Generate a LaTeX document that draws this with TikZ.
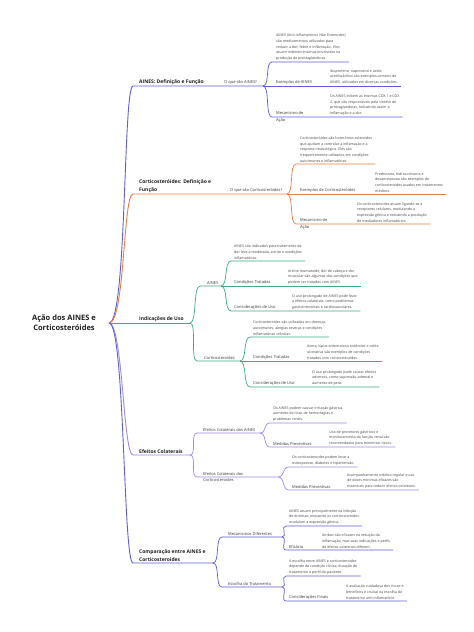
\documentclass[tikz,border=0pt]{standalone}
\usepackage{fontspec}
\setmainfont{Open Sans}
\usetikzlibrary{calc}
\definecolor{mmblue}{RGB}{92,94,218}
\definecolor{mmorange}{RGB}{236,122,66}
\definecolor{mmgreen}{RGB}{62,172,128}
\definecolor{mmpurple}{RGB}{162,136,232}

\begin{document}
\begin{tikzpicture}[
    x=1pt, y=-1pt,
    root/.style={align=center, inner sep=0pt, font=\bfseries\fontsize{7.5}{10}\selectfont, text=black!88},
    topic/.style={anchor=south west, inner xsep=0pt, inner ysep=1.6pt, align=left,
                  font=\bfseries\fontsize{5}{7.2}\selectfont, text=black!88},
    sub/.style={anchor=south west, inner xsep=0pt, inner ysep=1.4pt, align=left,
                font=\fontsize{4}{6.4}\selectfont, text=black!78},
    leaf/.style={anchor=south west, inner xsep=0pt, inner ysep=1.2pt, align=left,
                 font=\fontsize{3.6}{5.8}\selectfont, text=black!72},
    trunk/.style={draw=#1, line width=0.9pt},
    link/.style={draw=#1, line width=0.7pt},
]
\useasboundingbox (0,0) rectangle (474,632);
\fill[white] (0,0) rectangle (474,632);

% --- ROOT ---
\node[root] (root) at (64,323) {Ação dos AINES e\\Corticosteróides};
\coordinate (hub) at (109,323);

% --- BRANCH 1: AINES definicao ---
\node[topic] (t1) at (139,86) {AINES: Definição e Função};
\node[sub] (s1) at (224,86) {O que são AINES?};
\coordinate (f1) at (263,86);
\node[leaf] (l1a) at (276,62) {AINES (Anti-inflamatórios Não Esteroides)\\são medicamentos utilizados para\\reduzir a dor, febre e inflamação. Eles\\atuam inibindo enzimas envolvidas na\\produção de prostaglandinas.};
\node[sub] (s1b) at (276,86) {Exemplos de AINES};
\node[leaf] (l1b) at (330,86) {Ibuprofeno, naproxeno e ácido\\acetilsalicílico são exemplos comuns de\\AINES, utilizados em diversas condições.};
\node[sub, anchor=west] (s1c) at (276,117) {Mecanismo de\\Ação};
\node[leaf] (l1c) at (330,117) {Os AINES inibem as enzimas COX 1 e COX\\2, que são responsáveis pela síntese de\\prostaglandinas, reduzindo assim a\\inflamação e a dor.};

% --- BRANCH 2: Corticosteroides definicao ---
\node[topic] (t2) at (139,194) {Corticosteróides: Definição e\\Função};
\node[sub] (s2) at (230,194) {O que são Corticosteróides?};
\coordinate (f2) at (287,194);
\node[leaf] (l2a) at (300,164) {Corticosteróides são hormônios esteroides\\que ajudam a controlar a inflamação e a\\resposta imunológica. Eles são\\frequentemente utilizados em condições\\autoimunes e inflamatórias.};
\node[sub] (s2b) at (300,194) {Exemplos de Corticosteróides};
\node[leaf] (l2b) at (375,194) {Prednisona, hidrocortisona e\\dexametasona são exemplos de\\corticosteroides usados em tratamentos\\médicos.};
\node[sub, anchor=west] (s2c) at (300,224) {Mecanismo de\\Ação};
\node[leaf] (l2c) at (357,224) {Os corticosteroides atuam ligando-se a\\receptores celulares, modulando a\\expressão gênica e reduzindo a produção\\de mediadores inflamatórios.};

% --- BRANCH 3: Indicacoes ---
\node[topic] (t3) at (139,323) {Indicações de Uso};
\coordinate (f3) at (190,323);
\node[sub] (s3a) at (207,286) {AINES};
\coordinate (f3a) at (221,286);
\node[leaf] (l3a1) at (234,261) {AINES são indicados para tratamento de\\dor leve a moderada, artrite e condições\\inflamatórias.};
\node[sub] (s3a2) at (234,286) {Condições Tratadas};
\node[leaf] (l3a2) at (288,286) {Artrite reumatoide, dor de cabeça e dor\\muscular são algumas das condições que\\podem ser tratadas com AINES.};
\node[sub] (s3a3) at (234,311) {Considerações de Uso};
\node[leaf] (l3a3) at (292,311) {O uso prolongado de AINES pode levar\\a efeitos colaterais, como problemas\\gastrointestinais e cardiovasculares.};
\node[sub] (s3b) at (204,361) {Corticosteroides};
\coordinate (f3b) at (240,361);
\node[leaf] (l3b1) at (253,337) {Corticosteroides são utilizados em doenças\\autoimunes, alergias severas e condições\\inflamatórias crônicas.};
\node[sub] (s3b2) at (253,361) {Condições Tratadas};
\node[leaf] (l3b2) at (307,361) {Asma, lúpus eritematoso sistêmico e colite\\ulcerativa são exemplos de condições\\tratadas com corticosteroides.};
\node[sub] (s3b3) at (253,387) {Considerações de Uso};
\node[leaf] (l3b3) at (312,387) {O uso prolongado pode causar efeitos\\adversos, como supressão adrenal e\\aumento de peso.};

% --- BRANCH 4: Efeitos colaterais ---
\node[topic] (t4) at (139,455) {Efeitos Colaterais};
\coordinate (f4) at (190,455);
\node[sub] (s4a) at (203,433) {Efeitos Colaterais dos AINES};
\coordinate (f4a) at (260,433);
\node[leaf] (l4a1) at (273,423) {Os AINES podem causar irritação gástrica,\\aumento do risco de hemorragias e\\problemas renais.};
\node[sub] (s4a2) at (273,447) {Medidas Preventivas};
\node[leaf] (l4a2) at (329,447) {Uso de protetores gástricos e\\monitoramento da função renal são\\recomendados para minimizar riscos.};
\node[sub, anchor=west] (s4b) at (203,477) {Efeitos Colaterais dos\\Corticosteroides};
\coordinate (f4b) at (278,477);
\node[leaf] (l4b1) at (292,467) {Os corticosteroides podem levar a\\osteoporose, diabetes e hipertensão.};
\node[sub] (s4b2) at (292,490) {Medidas Preventivas};
\node[leaf] (l4b2) at (347,490) {Acompanhamento médico regular e uso\\de doses mínimas eficazes são\\essenciais para reduzir efeitos colaterais.};

% --- BRANCH 5: Comparacao ---
\node[topic] (t5) at (139,563) {Comparação entre AINES e\\Corticosteroides};
\coordinate (f5) at (213,563);
\node[sub] (s5a) at (228,537) {Mecanismos Diferentes};
\coordinate (f5a) at (282,537);
\node[leaf] (l5a1) at (289,526) {AINES atuam principalmente na inibição\\de enzimas, enquanto os corticosteroides\\modulam a expressão gênica.};
\node[sub] (s5a2) at (289,550) {Eficácia};
\node[leaf] (l5a2) at (322,550) {Ambos são eficazes na redução da\\inflamação, mas suas indicações e perfis\\de efeitos colaterais diferem.};
\node[sub] (s5b) at (228,587) {Escolha do Tratamento};
\coordinate (f5b) at (282,587);
\node[leaf] (l5b1) at (289,576) {A escolha entre AINES e corticosteroides\\depende da condição clínica, duração do\\tratamento e perfil do paciente.};
\node[sub] (s5b2) at (289,601) {Considerações Finais};
\node[leaf] (l5b2) at (346,601) {A avaliação cuidadosa dos riscos e\\benefícios é crucial na escolha do\\tratamento anti-inflamatório.};

% --- Trunks: root -> topics ---
\draw[trunk=mmblue]   (hub) .. controls +(18,0) and +(-10,0) .. ([xshift=-6]t1.south west) -- (f1);
\draw[trunk=mmorange] (hub) .. controls +(16,0) and +(-10,0) .. ([xshift=-6]t2.south west) -- (f2);
\draw[trunk=mmgreen]  (hub) -- (f3);
\draw[trunk=mmpurple] (hub) .. controls +(14,0) and +(-10,0) .. ([xshift=-6]t4.south west) -- (f4);
\draw[trunk=mmblue]   (hub) .. controls +(16,0) and +(-10,0) .. ([xshift=-6]t5.south west) -- (f5);

% --- Branch 1 links ---
\draw[link=mmblue] (f1) .. controls +(7,0) and +(-7,0) .. ([xshift=-4]l1a.south west) -- ([xshift=3]l1a.south east);
\draw[link=mmblue] (f1) -- ([xshift=3]l1b.south east);
\draw[link=mmblue] (f1) .. controls +(7,0) and +(-7,0) .. ([xshift=-4]s1c.west) -- ([xshift=3]l1c.south east);

% --- Branch 2 links ---
\draw[link=mmorange] (f2) .. controls +(7,0) and +(-7,0) .. ([xshift=-4]l2a.south west) -- ([xshift=3]l2a.south east);
\draw[link=mmorange] (f2) -- ([xshift=3]l2b.south east);
\draw[link=mmorange] (f2) .. controls +(7,0) and +(-7,0) .. ([xshift=-4]s2c.west) -- ([xshift=3]l2c.south east);

% --- Branch 3 links ---
\draw[link=mmgreen] (f3) .. controls +(7,0) and +(-7,0) .. ([xshift=-7]s3a.south west) -- (f3a);
\draw[link=mmgreen] (f3) .. controls +(7,0) and +(-7,0) .. ([xshift=-7]s3b.south west) -- (f3b);
\draw[link=mmgreen] (f3a) .. controls +(7,0) and +(-7,0) .. ([xshift=-3]l3a1.south west) -- ([xshift=3]l3a1.south east);
\draw[link=mmgreen] (f3a) -- ([xshift=3]l3a2.south east);
\draw[link=mmgreen] (f3a) .. controls +(7,0) and +(-7,0) .. ([xshift=-3]s3a3.south west) -- ([xshift=3]l3a3.south east);
\draw[link=mmgreen] (f3b) .. controls +(7,0) and +(-7,0) .. ([xshift=-3]l3b1.south west) -- ([xshift=3]l3b1.south east);
\draw[link=mmgreen] (f3b) -- ([xshift=3]l3b2.south east);
\draw[link=mmgreen] (f3b) .. controls +(7,0) and +(-7,0) .. ([xshift=-3]s3b3.south west) -- ([xshift=3]l3b3.south east);

% --- Branch 4 links ---
\draw[link=mmpurple] (f4) .. controls +(7,0) and +(-7,0) .. ([xshift=-6]s4a.south west) -- (f4a);
\draw[link=mmpurple] (f4) .. controls +(7,0) and +(-7,0) .. ([xshift=-6]s4b.west) -- (f4b);
\draw[link=mmpurple] (f4a) .. controls +(7,0) and +(-7,0) .. ([xshift=-3]l4a1.south west) -- ([xshift=3]l4a1.south east);
\draw[link=mmpurple] (f4a) .. controls +(7,0) and +(-7,0) .. ([xshift=-3]s4a2.south west) -- ([xshift=3]l4a2.south east);
\draw[link=mmpurple] (f4b) .. controls +(7,0) and +(-7,0) .. ([xshift=-3]l4b1.south west) -- ([xshift=3]l4b1.south east);
\draw[link=mmpurple] (f4b) .. controls +(7,0) and +(-7,0) .. ([xshift=-3]s4b2.south west) -- ([xshift=3]l4b2.south east);

% --- Branch 5 links ---
\draw[link=mmblue] (f5) .. controls +(7,0) and +(-7,0) .. ([xshift=-6]s5a.south west) -- (f5a);
\draw[link=mmblue] (f5) .. controls +(7,0) and +(-7,0) .. ([xshift=-6]s5b.south west) -- (f5b);
\draw[link=mmblue] (f5a) .. controls +(6,0) and +(-6,0) .. ([xshift=-3]l5a1.south west) -- ([xshift=3]l5a1.south east);
\draw[link=mmblue] (f5a) .. controls +(6,0) and +(-6,0) .. ([xshift=-3]s5a2.south west) -- ([xshift=3]l5a2.south east);
\draw[link=mmblue] (f5b) .. controls +(6,0) and +(-6,0) .. ([xshift=-3]l5b1.south west) -- ([xshift=3]l5b1.south east);
\draw[link=mmblue] (f5b) .. controls +(6,0) and +(-6,0) .. ([xshift=-3]s5b2.south west) -- ([xshift=3]l5b2.south east);
\end{tikzpicture}
\end{document}
